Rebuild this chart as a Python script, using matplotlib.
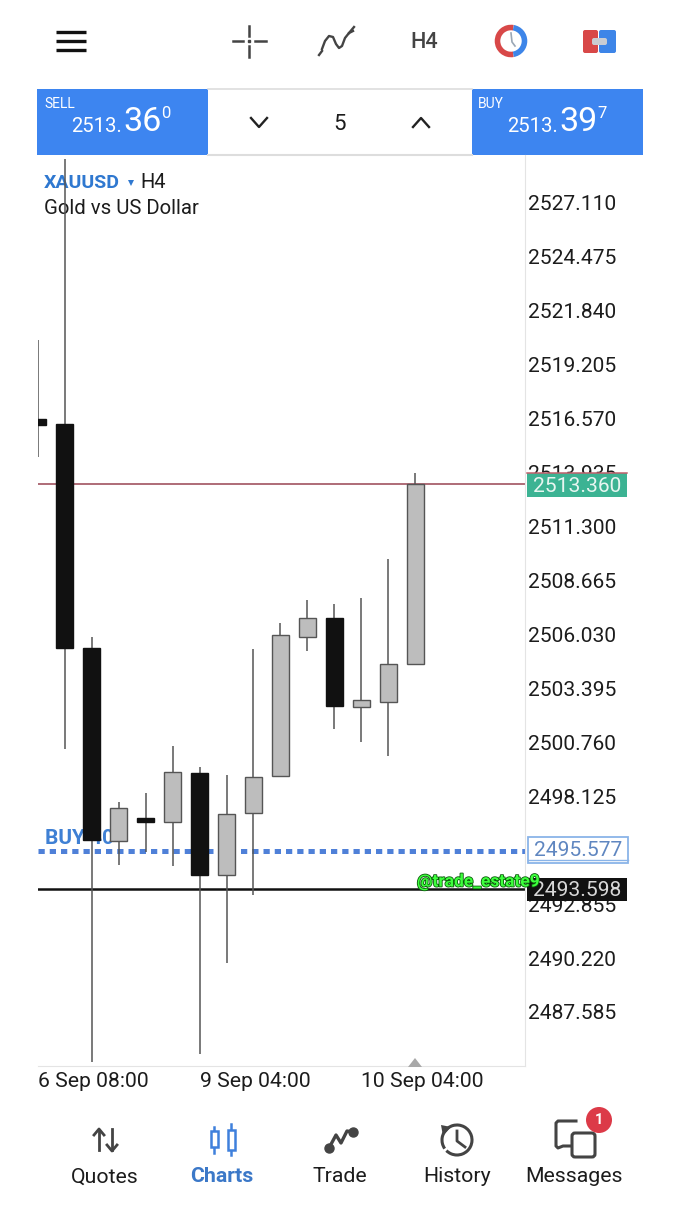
import matplotlib
matplotlib.use('Agg')
import matplotlib.pyplot as plt
import matplotlib.patheffects as pe
from matplotlib.patches import Rectangle, Circle, Arc, FancyBboxPatch, Polygon

plt.rcParams['font.family'] = ['Roboto', 'DejaVu Sans']

# candles, oldest first
opens = [2516.56, 2516.31, 2505.37, 2495.94, 2497.06, 2496.87, 2499.26, 2494.28,
         2497.31, 2499.12, 2505.91, 2506.83, 2502.49, 2502.73, 2504.59]
closes = [2516.26, 2505.37, 2495.99, 2497.55, 2496.87, 2499.31, 2494.28, 2497.26,
          2499.07, 2506.00, 2506.83, 2502.54, 2502.83, 2504.59, 2513.36]
highs = [2520.42, 2529.26, 2505.91, 2497.85, 2498.28, 2500.58, 2499.56, 2499.16,
         2505.32, 2506.59, 2507.71, 2507.52, 2507.81, 2509.72, 2513.92]
lows = [2514.70, 2500.43, 2485.14, 2494.77, 2495.40, 2494.72, 2485.53, 2489.98,
        2493.30, 2499.12, 2505.22, 2501.41, 2500.78, 2500.09, 2504.59]

price_ticks = [2527.110, 2524.475, 2521.840, 2519.205, 2516.570, 2513.935, 2511.300,
               2508.665, 2506.030, 2503.395, 2500.760, 2498.125, 2492.855, 2490.220, 2487.585]
time_ticks = [0, 6, 12]
time_labels = ['6 Sep 08:00', '9 Sep 04:00', '10 Sep 04:00']

sell_price = 2513.36
buy_level = 2495.45
black_level = 2493.598

BLUE = '#3d85f0'
TEXT = '#1c1c1c'
ICON = '#444444'

W, H = 680, 1209
fig = plt.figure(figsize=(W / 100, H / 100), dpi=100, facecolor='white')


def pixel_axes(z):
    a = fig.add_axes([0, 0, 1, 1], zorder=z)
    a.set_xlim(0, W)
    a.set_ylim(H, 0)
    a.axis('off')
    a.patch.set_alpha(0)
    return a


bg = pixel_axes(0)
top = pixel_axes(2)

# chart panel, pixel box 38..525 by 155..1066
ax = fig.add_axes([38 / W, 1 - 1066 / H, 487 / W, 911 / H], zorder=1)
ax.patch.set_alpha(0)
ax.set_xlim(0, 18.08)
ax.set_ylim(2484.946, 2529.455)
for side in ['left', 'top']:
    ax.spines[side].set_visible(False)
for side in ['right', 'bottom']:
    ax.spines[side].set_color('#e4e4e4')
ax.yaxis.tick_right()
ax.set_yticks(price_ticks)
ax.set_yticklabels(['%.3f' % p for p in price_ticks], fontsize=15.1, color=TEXT)
ax.set_xticks(time_ticks)
ax.set_xticklabels(time_labels, fontsize=15.2, color=TEXT, ha='left')
ax.tick_params(length=0)
ax.tick_params(axis='y', pad=2.5)
ax.tick_params(axis='x', pad=4.5)

ax.axhline(sell_price, color='#a8606c', lw=1.3, zorder=1)
ax.axhline(buy_level, color='#4f80d8', lw=3.6, dashes=(1.25, 1.0), zorder=1)
ax.axhline(black_level, color='#111111', lw=1.8, zorder=1)

for i in range(len(opens)):
    ax.vlines(i, lows[i], highs[i], color='#555555', lw=1.1, zorder=2)
    up = closes[i] >= opens[i]
    ax.bar(i, abs(closes[i] - opens[i]), bottom=min(opens[i], closes[i]), width=0.63,
           color='#bdbdbd' if up else '#111111', edgecolor='#555555' if up else '#111111',
           lw=1.0, zorder=3)

# header row
for y in [32, 41, 50]:
    bg.plot([56, 86], [y, y], color='#111111', lw=2.4, solid_capstyle='butt')
for seg in [([249, 249], [26, 36]), ([249, 249], [46, 57]),
            ([233, 243], [41, 41]), ([255, 266], [41, 41])]:
    bg.plot(seg[0], seg[1], color=ICON, lw=1.8)
bg.plot([249], [41], 's', color=ICON, ms=1.6)
bg.plot([322, 325, 329, 333, 336, 339, 342, 345, 349, 353],
        [49, 41, 36, 37, 44, 48, 46, 38, 33, 31], color=ICON, lw=1.7)
bg.plot([319, 322], [55, 51], color=ICON, lw=1.7)
bg.plot([349, 354], [33, 27], color=ICON, lw=1.7)
bg.text(424, 42, 'H4', fontsize=15.5, color='#444444', ha='center', va='center', weight='medium')

bg.add_patch(Arc((511, 41), 27, 27, theta1=80, theta2=280, color='#d84848', lw=4))
bg.add_patch(Arc((511, 41), 27, 27, theta1=-80, theta2=80, color='#3d85e8', lw=4))
bg.plot([511, 512, 515], [33, 42, 46], color='#9aa7b5', lw=1.2)

bg.add_patch(FancyBboxPatch((583, 30), 15, 23, boxstyle='round,pad=0,rounding_size=2', color='#d84848', lw=0))
bg.add_patch(FancyBboxPatch((599, 30), 17, 23, boxstyle='round,pad=0,rounding_size=2', color='#3d85e8', lw=0))
bg.add_patch(FancyBboxPatch((592, 38), 15, 7, boxstyle='round,pad=0,rounding_size=2', color='#c9ccd2', lw=0))

# sell / buy strip
bg.plot([208, 472], [89, 89], color='#dddddd', lw=1.2)
bg.plot([208, 472], [155, 155], color='#dddddd', lw=1.5)
bg.add_patch(Rectangle((37, 89), 171, 66, color=BLUE, lw=0))
bg.add_patch(Rectangle((472, 89), 171, 66, color=BLUE, lw=0))
for x0, label, small, big, tail in [(44, 'SELL', 71, '36', '0'), (478, 'BUY', 507, '39', '7')]:
    bg.text(x0, 104, label, color='white', fontsize=10, va='center')
    bg.text(small, 127, '2513.', color='white', fontsize=14.6, va='center')
    bg.text(small + 52, 122, big, color='white', fontsize=24.5, va='center')
    bg.text(small + 90, 113, tail, color='white', fontsize=12, va='center')
bg.plot([251, 259, 267], [118, 127, 118], color='#222222', lw=1.7)
bg.plot([413, 421, 429], [127, 118, 127], color='#222222', lw=1.7)
bg.text(340, 124, '5', fontsize=16, color=TEXT, ha='center', va='center')

# symbol title and order label sit under the candles
bg.text(44, 183, 'XAUUSD', fontsize=14, color='#2f78d0', weight='bold', va='center')
bg.add_patch(Polygon([[128, 180], [134, 180], [131, 186]], color='#2f78d0', lw=0))
bg.text(140, 183, 'H4', fontsize=14.5, color=TEXT, va='center')
bg.text(44, 208, 'Gold vs US Dollar', fontsize=14.7, color=TEXT, va='center')
bg.text(45, 839, 'BUY 40', fontsize=15, color='#3f80d4', weight='bold', va='center')

# price tags on the right
top.add_patch(Rectangle((527, 473), 100, 24, color='#3cb393', lw=0))
top.plot([527, 627], [473, 473], color='#c0606c', lw=1.1)
top.text(577, 486, '2513.360', fontsize=15.1, color='#e8f6f1', ha='center', va='center')
top.add_patch(Rectangle((528, 837), 100, 26, facecolor='white', edgecolor='#8ab4e8', lw=1.3))
top.plot([528, 628], [860, 860], color='#8ab4e8', lw=1)
top.text(578, 850, '2495.577', fontsize=15.1, color='#5f86c0', ha='center', va='center')
top.add_patch(Rectangle((527, 878), 100, 23, color='#111111', lw=0))
top.text(577, 890, '2493.598', fontsize=15.1, color='#d8d8d8', ha='center', va='center')
top.text(417, 882, '@trade_estate9', fontsize=12.5, color='#3dff3d', va='center', weight='bold',
         path_effects=[pe.withStroke(linewidth=1.2, foreground='#0a5a0a')])
top.add_patch(Polygon([[408, 1067], [422, 1067], [415, 1058]], color='#a8a8a8', lw=0))

# bottom navigation
nav_x = [105, 222, 340, 457, 574]
nav_labels = ['Quotes', 'Charts', 'Trade', 'History', 'Messages']
for x, label in zip(nav_x, nav_labels):
    active = label == 'Charts'
    bg.text(x, 1177, label, fontsize=15.3, ha='center', va='center',
            color='#3b78c8' if active else TEXT, weight='bold' if active else 'normal')

# quotes arrows
bg.plot([99, 99], [1150, 1130], color=ICON, lw=2)
bg.plot([94, 99, 104], [1135, 1129, 1135], color=ICON, lw=2)
bg.plot([112, 112], [1129, 1150], color=ICON, lw=2)
bg.plot([107, 112, 117], [1145, 1151, 1145], color=ICON, lw=2)
# charts candles
for x, y0, y1, y2, y3 in [(214, 1127, 1131, 1147, 1153), (231, 1124, 1130, 1150, 1155)]:
    bg.plot([x, x], [y0, y3], color='#3f80dc', lw=1.8)
    bg.add_patch(Rectangle((x - 3.5, y1), 7, y2 - y1, facecolor='white', edgecolor='#3f80dc', lw=1.8, zorder=3))
# trade line
bg.plot([329, 336, 341, 347, 353], [1148, 1135, 1143, 1131, 1132], color=ICON, lw=2.4)
bg.plot([329, 353], [1148, 1132], 'o', color=ICON, ms=6.5)
# history clock
bg.add_patch(Arc((457, 1140), 30, 30, theta1=-215, theta2=135, color=ICON, lw=2.2))
bg.plot([457, 457, 465], [1131, 1141, 1147], color=ICON, lw=2)
bg.add_patch(Polygon([[441, 1125], [451, 1127], [443, 1136]], color=ICON, lw=0))
# messages bubbles
bg.plot([576, 558, 556, 556, 558, 563, 570], [1121, 1121, 1123, 1146, 1148, 1146, 1146], color=ICON, lw=2.2)
bg.add_patch(FancyBboxPatch((572, 1133), 23, 24, boxstyle='round,pad=0,rounding_size=3',
                            facecolor='white', edgecolor=ICON, lw=2.2))
bg.add_patch(Circle((599, 1120), 13, color='#dc3a48', lw=0, zorder=4))
bg.text(599, 1120, '1', fontsize=10.5, color='white', weight='bold', ha='center', va='center', zorder=5)

fig.savefig('out.png', dpi=100)
